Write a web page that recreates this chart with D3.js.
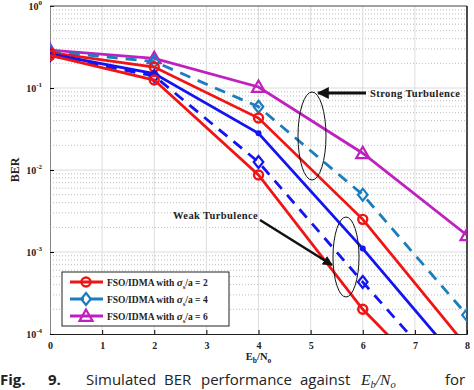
<!DOCTYPE html>
<html>
<head>
<meta charset="utf-8">
<script src="https://cdn.jsdelivr.net/npm/d3@7"></script>
<style>
  body { margin: 0; background: #fff; }
  svg { display: block; }
</style>
</head>
<body>
<div id="chart"></div>
<script>
// Eb/No points where the curves were simulated
var ebno = [0, 2, 4, 6, 8];

// strong turbulence
var berStrong6 = [0.29, 0.23, 0.103, 0.016, 0.0016];
var berStrong4 = [0.28, 0.21, 0.059, 0.005, 0.00017];
var berStrong2 = [0.27, 0.18, 0.043, 0.0025, 0.00007];
// weak turbulence
var berWeakSolid = [0.26, 0.15, 0.028, 0.0011, 0.000035];
var berWeak4 = [0.25, 0.14, 0.0125, 0.00043, 0.000016];
var berWeak2 = [0.25, 0.125, 0.0087, 0.0002, 0.00001];

var xTicks = [0, 1, 2, 3, 4, 5, 6, 7, 8];
var yDecades = [0, -1, -2, -3, -4];
var legendValues = ["2", "4", "6"];

var svgWidth = 474, svgHeight = 390;
var margin = { top: 6, right: 7, bottom: 56, left: 50 };
var width = svgWidth - margin.left - margin.right;
var height = svgHeight - margin.top - margin.bottom;

var RED = "#f01414", TEAL = "#1b7dbf", BLUE = "#1414f0", MAG = "#c020c0";

var series = [
  { v: berStrong6, color: MAG, dash: null, marker: "tri" },
  { v: berStrong4, color: TEAL, dash: "11,8", marker: "dia" },
  { v: berStrong2, color: RED, dash: null, marker: "circ" },
  { v: berWeakSolid, color: BLUE, dash: null, marker: "dot" },
  { v: berWeak4, color: BLUE, dash: "11,8", marker: "dia" },
  { v: berWeak2, color: RED, dash: null, marker: "circ" }
];

var svg = d3.select("#chart").append("svg")
  .attr("width", svgWidth)
  .attr("height", svgHeight);

var g = svg.append("g")
  .attr("transform", "translate(" + margin.left + "," + margin.top + ")");

var x = d3.scaleLinear().domain([0, 8]).range([0, width]);
var y = d3.scaleLog().domain([1e-4, 1]).range([height, 0]);

svg.append("defs").append("clipPath").attr("id", "plotclip")
  .append("rect").attr("width", width).attr("height", height);

// minor grid (dotted)
var minors = [];
yDecades.slice(0, 4).forEach(function(e) {
  for (var k = 2; k <= 9; k++) minors.push(k * Math.pow(10, e - 1));
});
g.append("g").selectAll("line").data(minors).enter().append("line")
  .attr("x1", 0).attr("x2", width)
  .attr("y1", function(d) { return y(d); }).attr("y2", function(d) { return y(d); })
  .attr("stroke", "#bdbdbd").attr("stroke-width", 1).attr("stroke-dasharray", "1,2");

// major grid
g.append("g").selectAll("line").data(xTicks.slice(1, -1)).enter().append("line")
  .attr("x1", function(d) { return x(d); }).attr("x2", function(d) { return x(d); })
  .attr("y1", 0).attr("y2", height)
  .attr("stroke", "#dcdcdc").attr("stroke-width", 1);
g.append("g").selectAll("line").data(yDecades.slice(1, -1)).enter().append("line")
  .attr("x1", 0).attr("x2", width)
  .attr("y1", function(d) { return y(Math.pow(10, d)); })
  .attr("y2", function(d) { return y(Math.pow(10, d)); })
  .attr("stroke", "#dcdcdc").attr("stroke-width", 1);

// axes
var xAxis = g.append("g")
  .attr("transform", "translate(0," + height + ")")
  .call(d3.axisBottom(x).tickValues(xTicks).tickSize(-4).tickPadding(8));
xAxis.select(".domain").attr("stroke", "#222");
xAxis.selectAll("text")
  .attr("font-family", "Liberation Serif").attr("font-weight", "bold")
  .attr("font-size", 10).attr("fill", "#222");

var yAxis = g.append("g")
  .call(d3.axisLeft(y).tickValues(yDecades.map(function(d) { return Math.pow(10, d); }))
    .tickSize(-4).tickFormat(""));
yAxis.select(".domain").attr("stroke", "#888");

g.append("g").selectAll("text").data(yDecades).enter().append("text")
  .attr("x", -8).attr("y", function(d) { return y(Math.pow(10, d)) + 4; })
  .attr("text-anchor", "end")
  .attr("font-family", "Liberation Serif").attr("font-weight", "bold")
  .attr("font-size", 10).attr("fill", "#222")
  .each(function(d) {
    var t = d3.select(this);
    t.append("tspan").text("10");
    t.append("tspan").attr("dy", -5).attr("font-size", 7).text(d === 0 ? "0" : String(d));
  });

// box top/right
g.append("line").attr("x1", 0).attr("x2", width).attr("y1", 0).attr("y2", 0)
  .attr("stroke", "#444");
g.append("line").attr("x1", width).attr("x2", width).attr("y1", 0).attr("y2", height)
  .attr("stroke", "#111").attr("stroke-width", 1.5);

// axis labels
svg.append("text")
  .attr("transform", "translate(19," + (margin.top + y(1e-2)) + ") rotate(-90)")
  .attr("text-anchor", "middle")
  .attr("font-family", "Liberation Serif").attr("font-weight", "bold")
  .attr("font-size", 12).attr("fill", "#222").text("BER");

var xl = svg.append("text")
  .attr("x", margin.left + x(4)).attr("y", 360)
  .attr("text-anchor", "middle")
  .attr("font-family", "Liberation Serif").attr("font-weight", "bold")
  .attr("font-size", 10.5).attr("fill", "#222");
xl.append("tspan").text("E");
xl.append("tspan").attr("dy", 3).attr("font-size", 7.5).text("b");
xl.append("tspan").attr("dy", -3).text("/N");
xl.append("tspan").attr("dy", 3).attr("font-size", 7.5).text("o");

// curves
var line = d3.line()
  .x(function(d, i) { return x(ebno[i]); })
  .y(function(d) { return y(d); });

var plot = g.append("g").attr("clip-path", "url(#plotclip)");

function drawMarker(sel, type, color, cx, cy) {
  if (type === "circ") {
    sel.append("circle").attr("cx", cx).attr("cy", cy).attr("r", 4.5)
      .attr("fill", "none").attr("stroke", color).attr("stroke-width", 2.4);
  } else if (type === "dia") {
    var s = 6;
    sel.append("path")
      .attr("d", "M" + cx + "," + (cy - s) + "L" + (cx + s * 0.8) + "," + cy + "L" + cx + "," + (cy + s) + "L" + (cx - s * 0.8) + "," + cy + "Z")
      .attr("fill", "none").attr("stroke", color).attr("stroke-width", 2.2);
  } else if (type === "tri") {
    var t = 6.5;
    sel.append("path")
      .attr("d", "M" + cx + "," + (cy - t) + "L" + (cx + t) + "," + (cy + t * 0.75) + "L" + (cx - t) + "," + (cy + t * 0.75) + "Z")
      .attr("fill", "none").attr("stroke", color).attr("stroke-width", 2.2);
  } else {
    sel.append("circle").attr("cx", cx).attr("cy", cy).attr("r", 3)
      .attr("fill", color);
  }
}

series.forEach(function(s) {
  plot.append("path")
    .datum(s.v)
    .attr("fill", "none")
    .attr("stroke", s.color)
    .attr("stroke-width", 2.8)
    .attr("stroke-dasharray", s.dash)
    .attr("d", line);
  var mg = plot.append("g");
  s.v.forEach(function(v, i) {
    if (v >= 1e-4) drawMarker(mg, s.marker, s.color, x(ebno[i]), y(v));
  });
});

// annotations
g.append("ellipse").attr("cx", 262).attr("cy", 130).attr("rx", 14).attr("ry", 44)
  .attr("fill", "none").attr("stroke", "#111").attr("stroke-width", 1);
g.append("ellipse").attr("cx", 296).attr("cy", 251).attr("rx", 13).attr("ry", 40)
  .attr("fill", "none").attr("stroke", "#111").attr("stroke-width", 1);

svg.append("defs").append("marker").attr("id", "ah")
  .attr("viewBox", "0 0 10 10").attr("refX", 9).attr("refY", 5)
  .attr("markerWidth", 4).attr("markerHeight", 4).attr("orient", "auto")
  .append("path").attr("d", "M0,0L10,5L0,10Z").attr("fill", "#111");

svg.append("line").attr("x1", 366).attr("y1", 93).attr("x2", 318).attr("y2", 93)
  .attr("stroke", "#111").attr("stroke-width", 3).attr("marker-end", "url(#ah)");
svg.append("line").attr("x1", 260).attr("y1", 220).attr("x2", 332).attr("y2", 265)
  .attr("stroke", "#111").attr("stroke-width", 2.5).attr("marker-end", "url(#ah)");

svg.append("text").attr("x", 370).attr("y", 97)
  .attr("font-family", "Liberation Serif").attr("font-weight", "bold")
  .attr("font-size", 10.5).attr("letter-spacing", 0.4).attr("fill", "#222").text("Strong Turbulence");
svg.append("text").attr("x", 173).attr("y", 219)
  .attr("font-family", "Liberation Serif").attr("font-weight", "bold")
  .attr("font-size", 10.5).attr("letter-spacing", 0.4).attr("fill", "#222").text("Weak Turbulence");

// legend
var leg = svg.append("g").attr("transform", "translate(62,272)");
leg.append("rect").attr("width", 167).attr("height", 54)
  .attr("fill", "#fff").attr("stroke", "#222").attr("stroke-width", 1);
var legStyles = [
  { color: RED, marker: "circ", dash: null },
  { color: TEAL, marker: "dia", dash: "14,5" },
  { color: MAG, marker: "tri", dash: null }
];
legendValues.forEach(function(v, i) {
  var ly = 10 + i * 17;
  var st = legStyles[i];
  leg.append("line").attr("x1", 8).attr("x2", 41).attr("y1", ly).attr("y2", ly)
    .attr("stroke", st.color).attr("stroke-width", 2.8)
    .attr("stroke-dasharray", st.dash);
  drawMarker(leg, st.marker, st.color, 24, ly);
  var t = leg.append("text").attr("x", 45).attr("y", ly + 3.5)
    .attr("font-family", "Liberation Serif").attr("font-weight", "bold")
    .attr("font-size", 9.5).attr("fill", "#222");
  t.append("tspan").text("FSO/IDMA with ");
  t.append("tspan").attr("font-style", "italic").attr("font-size", 11).text("σ");
  t.append("tspan").attr("dy", 3).attr("font-size", 7).text("s");
  t.append("tspan").attr("dy", -3).text("/a = " + v);
});

// caption (bottom line of the figure)
var capY = 385;
var cap = svg.append("g")
  .attr("font-family", "Open Sans").attr("font-size", 15).attr("fill", "#222");
cap.append("text").attr("x", 0).attr("y", capY).attr("font-weight", "bold").text("Fig.");
cap.append("text").attr("x", 48).attr("y", capY).attr("font-weight", "bold").text("9.");
cap.append("text").attr("x", 86).attr("y", capY).text("Simulated");
cap.append("text").attr("x", 164).attr("y", capY).text("BER");
cap.append("text").attr("x", 201).attr("y", capY).text("performance");
cap.append("text").attr("x", 300).attr("y", capY).text("against");
var eq = cap.append("text").attr("x", 361).attr("y", capY)
  .attr("font-family", "Liberation Serif").attr("font-style", "italic").attr("font-size", 15.5);
eq.append("tspan").text("E");
eq.append("tspan").attr("dy", 3).attr("font-size", 10.5).text("b");
eq.append("tspan").attr("dy", -3).text("/N");
eq.append("tspan").attr("dy", 3).attr("font-size", 10.5).text("o");
cap.append("text").attr("x", 445).attr("y", capY).text("for");
</script>
</body>
</html>
